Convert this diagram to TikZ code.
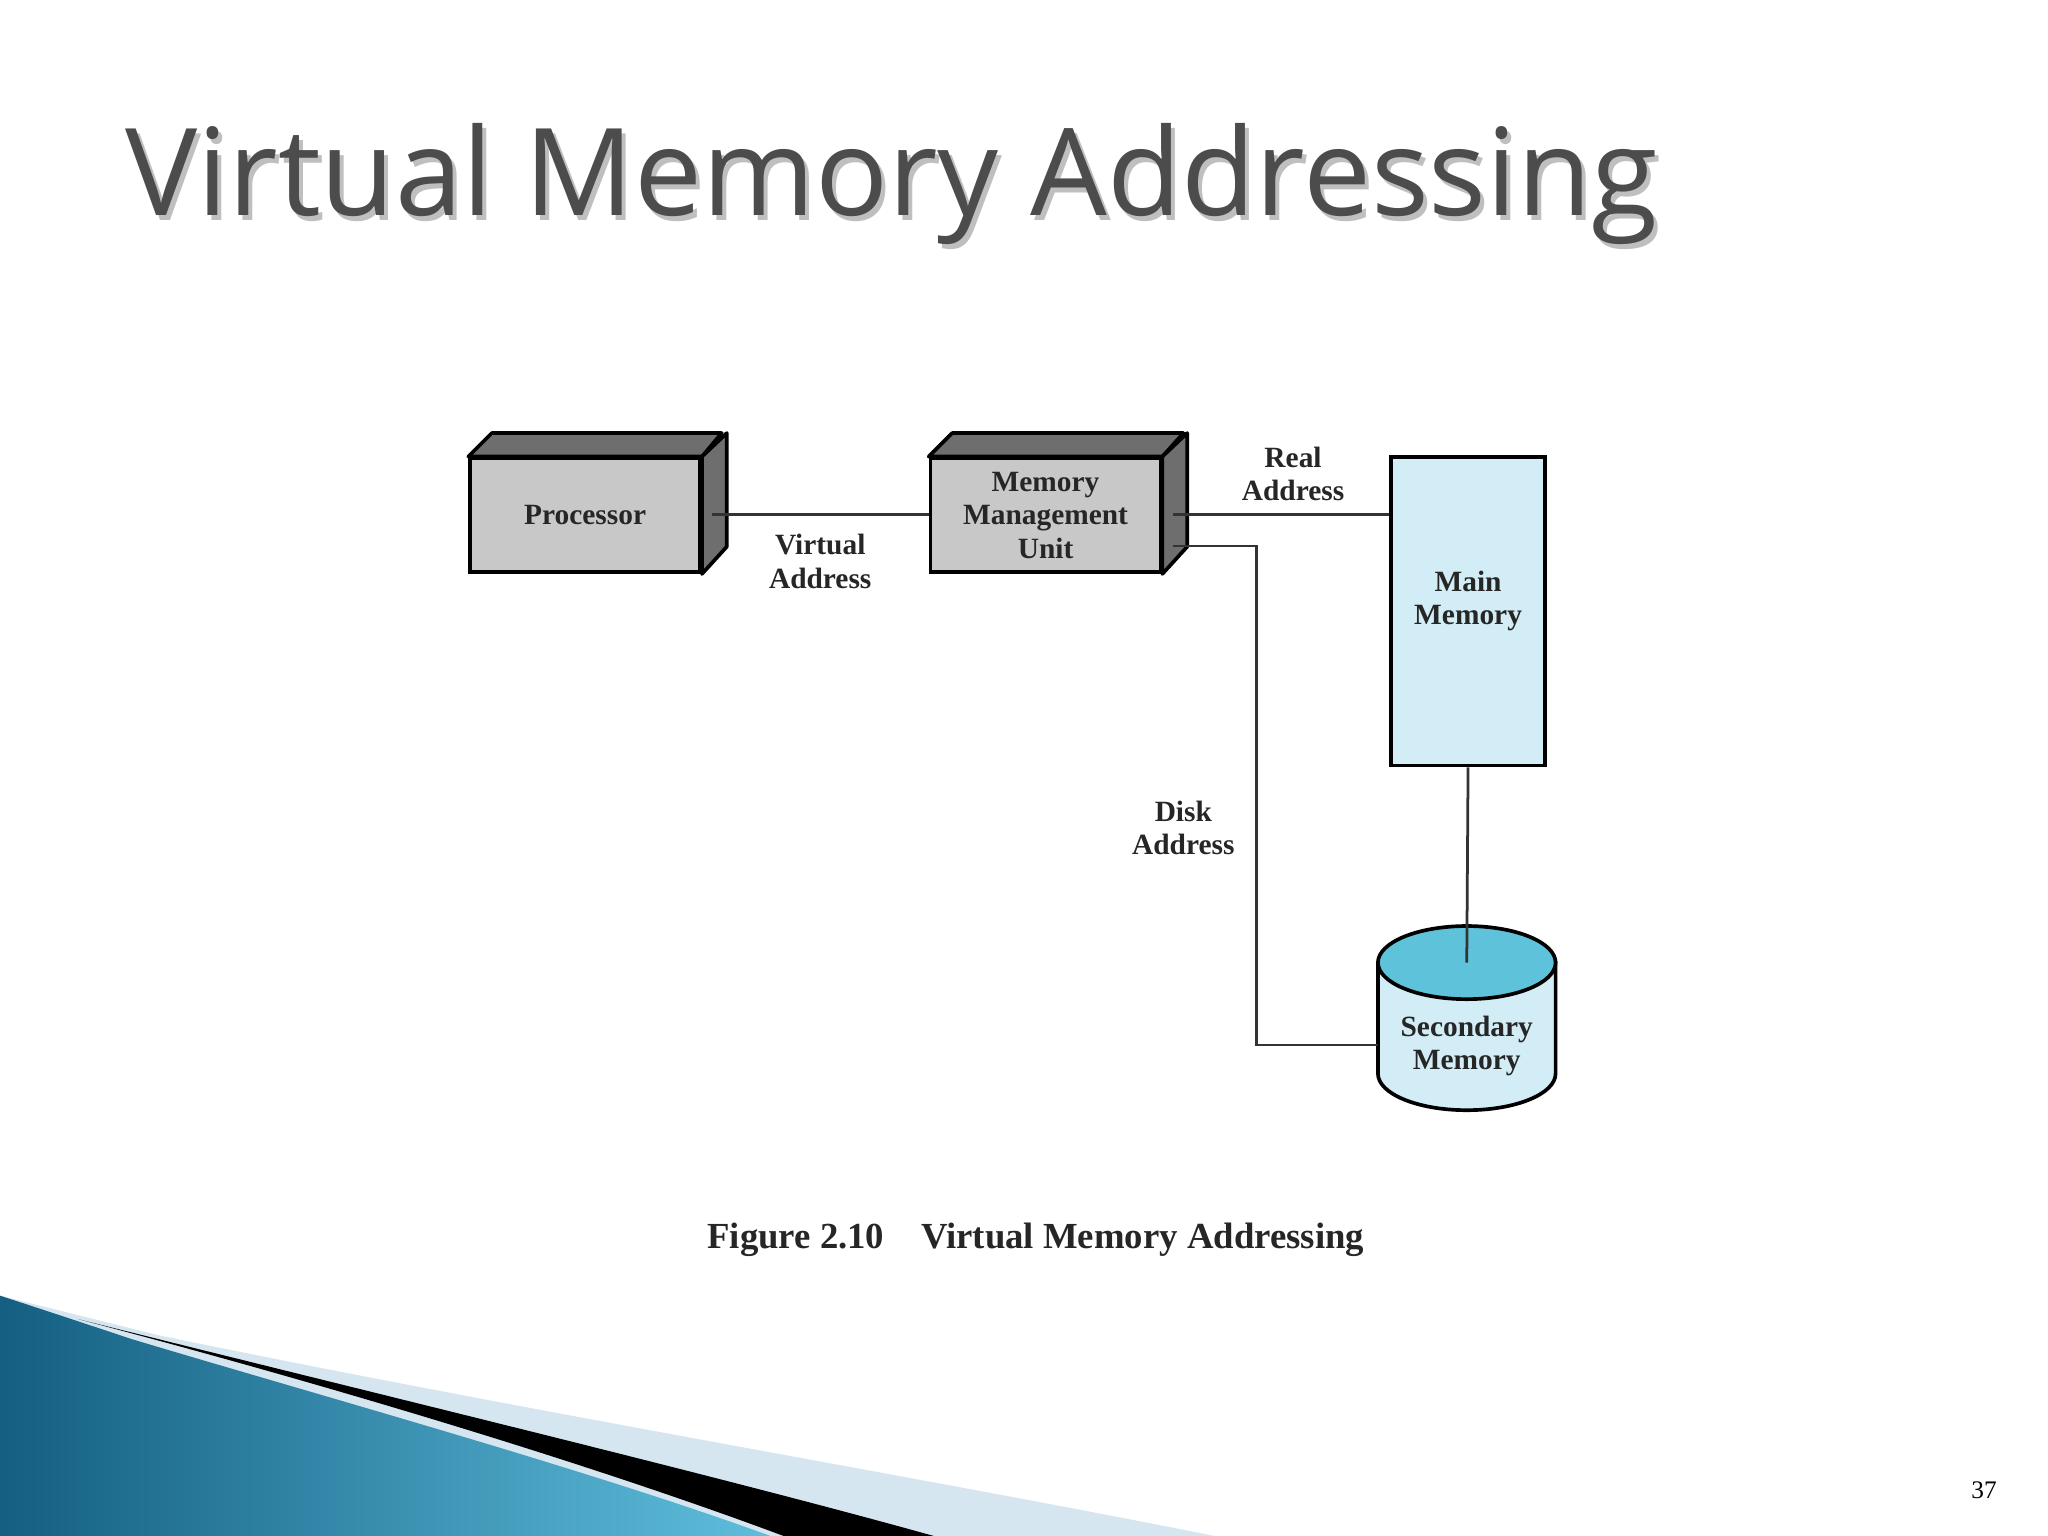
\documentclass[tikz,border=0pt]{standalone}
\usepackage{fontspec}
\setmainfont{Liberation Serif}
\newfontfamily\titlefont{Open Sans}
\usetikzlibrary{shapes.geometric}
\definecolor{boxgray}{HTML}{C8C8C8}
\definecolor{darkgray3}{HTML}{6E6E6E}
\definecolor{memblue}{HTML}{D2EDF5}
\definecolor{cyltop}{HTML}{5EC3DA}
\begin{document}
\begin{tikzpicture}[x=0.01cm,y=-0.01cm,
  lbl/.style={font=\fontsize{6.4}{7.3}\selectfont\bfseries,align=center,text=black!85},
  box/.style={draw=black,line width=0.8pt,fill=boxgray,minimum width=1.76cm,minimum height=0.87cm,inner sep=0pt,lbl},
  face/.style={draw=black,line width=0.8pt,fill=darkgray3,line join=round},
  conn/.style={draw=black!80,line width=0.6pt},
  titlestyle/.style={font=\titlefont\fontsize{26.4}{30}\selectfont}]
\useasboundingbox (0,0) rectangle (1568,1176);
\fill[white] (0,0) rectangle (1568,1176);
% swoosh
\fill[color={rgb,255:red,214;green,230;blue,240}] (0,992) -- (120,1022) .. controls (400,1080) and (700,1130) .. (930,1176) -- (0,1176) -- cycle;
\fill[black] (60,1010) .. controls (300,1070) and (550,1130) .. (715,1176) -- (600,1176) .. controls (450,1120) and (250,1060) .. (60,1010) -- cycle;
\shade[left color={rgb,255:red,20;green,95;blue,130},right color={rgb,255:red,95;green,190;blue,220}] (0,992) .. controls (40,1005) and (70,1015) .. (100,1025) .. controls (250,1070) and (450,1125) .. (590,1176) -- (0,1176) -- cycle;
% title
\node[titlestyle,text=black!25] (titleshadow) at (686,145) {Virtual Memory Addressing};
\node[titlestyle,text=black!70] (title) at (683,141) {Virtual Memory Addressing};
% processor
\node[box] (proc) at (448,394.5) {Processor};
\fill[face] (proc.north west) -- ++(18,-18) -- ++(176,0) -- (proc.north east) -- cycle;
\fill[face] (proc.north east) -- ++(19,-18) -- ++(0,87) -- (proc.south east) -- cycle;
% mmu
\node[box] (mmu) at (800.5,394.5) {Memory\\Management\\Unit};
\fill[face] (mmu.north west) -- ++(18,-18) -- ++(177,0) -- (mmu.north east) -- cycle;
\fill[face] (mmu.north east) -- ++(19,-18) -- ++(0,87) -- (mmu.south east) -- cycle;
% main memory
\node[draw=black,line width=0.8pt,fill=memblue,minimum width=1.18cm,minimum height=2.36cm,inner sep=0pt] (mm) at (1124,468) {};
\node[lbl] (mmtext) at (1124,460) {Main\\Memory};
% secondary memory cylinder
\filldraw[fill=memblue,draw=black,line width=0.8pt] (1055,737) -- (1055,822) arc[start angle=180,end angle=0,x radius=68,y radius=28] -- (1191,737) -- cycle;
\filldraw[fill=cyltop,draw=black,line width=0.8pt] (1123,737) ellipse[x radius=68,y radius=28];
\coordinate (sm) at (1055,800);
\coordinate (smtop) at (1123,737);
\node[lbl] (smtext) at (1123,801) {Secondary\\Memory};
% connectors
\coordinate (procout) at (545,394);
\coordinate (mmuout1) at (898,394);
\coordinate (mmuout2) at (898,418);
\coordinate (bend) at (962,418);
\draw[conn] (procout) -- (mmu.west |- procout);
\draw[conn] (mmuout1) -- (mm.west |- mmuout1);
\draw[conn] (mmuout2) -- (bend) |- (sm);
\draw[conn] (mm.south) -- (smtop);
% labels
\node[lbl] (va) at (628,430) {Virtual\\Address};
\node[lbl] (ra) at (990,363) {Real\\Address};
\node[lbl] (da) at (906,634) {Disk\\Address};
\node[font=\fontsize{8}{9}\selectfont\bfseries,text=black!85] (cap) at (793,949) {Figure 2.10\hspace{1em}Virtual Memory Addressing};
\node[font=\fontsize{5.5}{6}\selectfont] (pg) at (1519,1141) {37};
\end{tikzpicture}
\end{document}
